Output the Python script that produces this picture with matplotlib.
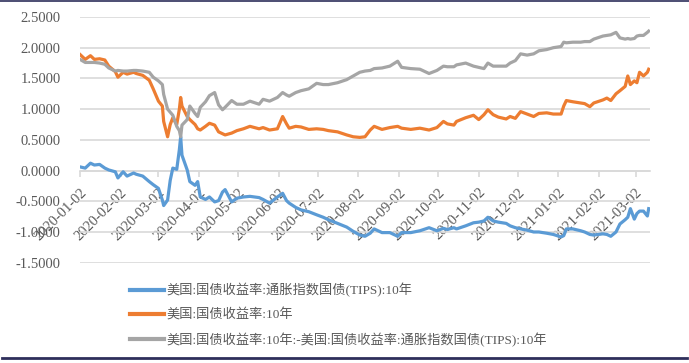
import matplotlib
matplotlib.use("Agg")
import matplotlib.pyplot as plt
import matplotlib.ticker as mticker
import pandas as pd

# sample dates (shared by all three series)
dates = [
    "2020-01-02", "2020-01-06", "2020-01-10", "2020-01-13", "2020-01-17", "2020-01-21",
    "2020-01-24", "2020-01-29", "2020-01-31", "2020-02-04", "2020-02-07", "2020-02-12",
    "2020-02-14", "2020-02-19", "2020-02-24", "2020-02-27", "2020-03-02", "2020-03-05",
    "2020-03-06", "2020-03-09", "2020-03-11", "2020-03-13", "2020-03-16", "2020-03-18",
    "2020-03-19", "2020-03-20", "2020-03-24", "2020-03-26", "2020-03-30", "2020-04-01",
    "2020-04-03", "2020-04-07", "2020-04-10", "2020-04-14", "2020-04-17", "2020-04-20",
    "2020-04-22", "2020-04-27", "2020-05-01", "2020-05-06", "2020-05-11", "2020-05-18",
    "2020-05-21", "2020-05-26", "2020-06-01", "2020-06-05", "2020-06-08", "2020-06-10",
    "2020-06-15", "2020-06-19", "2020-06-25", "2020-07-01", "2020-07-06", "2020-07-10",
    "2020-07-17", "2020-07-24", "2020-07-29", "2020-08-03", "2020-08-07", "2020-08-11",
    "2020-08-14", "2020-08-20", "2020-08-26", "2020-09-01", "2020-09-04", "2020-09-11",
    "2020-09-18", "2020-09-25", "2020-10-01", "2020-10-06", "2020-10-09", "2020-10-14",
    "2020-10-16", "2020-10-23", "2020-10-29", "2020-11-02", "2020-11-06", "2020-11-09",
    "2020-11-13", "2020-11-17", "2020-11-23", "2020-11-26", "2020-11-30", "2020-12-04",
    "2020-12-09", "2020-12-14", "2020-12-18", "2020-12-24", "2020-12-29", "2021-01-04",
    "2021-01-06", "2021-01-08", "2021-01-13", "2021-01-19", "2021-01-22", "2021-01-26",
    "2021-01-29", "2021-02-05", "2021-02-08", "2021-02-11", "2021-02-15", "2021-02-18",
    "2021-02-22", "2021-02-24", "2021-02-26", "2021-03-01", "2021-03-03", "2021-03-05",
    "2021-03-08", "2021-03-11", "2021-03-12",
]

tips_10y = [
    0.06, 0.04, 0.12, 0.09, 0.10, 0.04, 0.01, -0.02, -0.12, -0.02, -0.09, -0.04,
    -0.06, -0.09, -0.18, -0.23, -0.29, -0.48, -0.57, -0.48, -0.16, 0.04, 0.02, 0.34,
    0.55, 0.25, 0.01, -0.18, -0.24, -0.18, -0.43, -0.47, -0.43, -0.51, -0.49, -0.35,
    -0.31, -0.51, -0.45, -0.43, -0.42, -0.44, -0.47, -0.53, -0.43, -0.37, -0.49, -0.53,
    -0.60, -0.64, -0.67, -0.72, -0.76, -0.80, -0.86, -0.92, -0.99, -1.05, -1.07, -1.02,
    -0.95, -1.01, -1.01, -1.07, -1.01, -1.01, -0.98, -0.93, -0.98, -0.94, -0.96, -0.93,
    -0.95, -0.90, -0.85, -0.84, -0.82, -0.76, -0.82, -0.84, -0.86, -0.90, -0.93, -0.95,
    -0.97, -1.00, -1.00, -1.02, -1.04, -1.08, -1.06, -0.95, -0.95, -0.98, -1.00, -1.04,
    -1.05, -1.03, -1.04, -1.07, -1.00, -0.87, -0.80, -0.76, -0.62, -0.79, -0.70, -0.66,
    -0.66, -0.74, -0.62,
]

nominal_10y = [
    1.89, 1.81, 1.87, 1.81, 1.82, 1.80, 1.70, 1.61, 1.52, 1.60, 1.57, 1.60,
    1.58, 1.55, 1.47, 1.33, 1.13, 1.05, 0.80, 0.55, 0.75, 0.86, 0.75, 1.00,
    1.19, 1.05, 0.88, 0.83, 0.75, 0.68, 0.66, 0.72, 0.77, 0.74, 0.63, 0.60,
    0.58, 0.61, 0.65, 0.68, 0.72, 0.68, 0.70, 0.66, 0.68, 0.88, 0.76, 0.69,
    0.72, 0.71, 0.67, 0.68, 0.67, 0.65, 0.63, 0.58, 0.55, 0.54, 0.55, 0.66,
    0.72, 0.67, 0.70, 0.72, 0.69, 0.67, 0.69, 0.66, 0.70, 0.80, 0.76, 0.74,
    0.80, 0.86, 0.90, 0.83, 0.91, 0.99, 0.91, 0.87, 0.84, 0.88, 0.85, 0.96,
    0.92, 0.88, 0.93, 0.94, 0.92, 0.92, 1.05, 1.14, 1.12, 1.10, 1.09, 1.04,
    1.10, 1.15, 1.18, 1.14, 1.25, 1.30, 1.37, 1.54, 1.40, 1.46, 1.43, 1.60,
    1.54, 1.60, 1.65,
]

breakeven = [
    1.81, 1.76, 1.76, 1.76, 1.75, 1.73, 1.67, 1.62, 1.63, 1.62, 1.62, 1.63,
    1.63, 1.62, 1.60, 1.52, 1.46, 1.40, 1.24, 1.00, 0.95, 0.90, 0.72, 0.65,
    0.55, 0.74, 0.83, 1.05, 0.93, 0.88, 1.03, 1.12, 1.22, 1.27, 1.07, 0.99,
    1.03, 1.14, 1.08, 1.08, 1.13, 1.08, 1.16, 1.13, 1.19, 1.27, 1.23, 1.21,
    1.27, 1.30, 1.33, 1.42, 1.40, 1.40, 1.43, 1.48, 1.54, 1.60, 1.62, 1.63,
    1.66, 1.67, 1.70, 1.78, 1.68, 1.66, 1.65, 1.58, 1.63, 1.70, 1.69, 1.69,
    1.72, 1.75, 1.70, 1.68, 1.66, 1.75, 1.70, 1.70, 1.70, 1.75, 1.79, 1.90,
    1.88, 1.90, 1.95, 1.97, 2.00, 2.02, 2.09, 2.08, 2.09, 2.09, 2.10, 2.10,
    2.14, 2.19, 2.20, 2.21, 2.25, 2.16, 2.14, 2.15, 2.14, 2.15, 2.19, 2.20,
    2.20, 2.25, 2.27,
]

labels = [
    "美国:国债收益率:通胀指数国债(TIPS):10年",
    "美国:国债收益率:10年",
    "美国:国债收益率:10年:-美国:国债收益率:通胀指数国债(TIPS):10年",
]
colors = ["#5B9BD5", "#ED7D31", "#A5A5A5"]

yticks = [-1.5, -1.0, -0.5, 0.0, 0.5, 1.0, 1.5, 2.0, 2.5]
xtick_dates = pd.date_range("2020-01-01", "2021-03-01", freq="MS") + pd.Timedelta(days=1)

plt.rcParams["font.family"] = ["Liberation Serif", "Noto Sans CJK SC"]
text_color = "#595959"
grid_color = "#D9D9D9"

x = pd.to_datetime(dates)

fig = plt.figure(figsize=(6.89, 3.63), dpi=100)
ax = fig.add_axes([80 / 689, 1 - 262.7 / 363, 570 / 689, (262.7 - 17) / 363])

for series, lab, col in zip([tips_10y, nominal_10y, breakeven], labels, colors):
    ax.plot(x, series, color=col, lw=2.3, label=lab, solid_joinstyle="round")

ax.set_ylim(-1.5, 2.5)
ax.set_xlim(pd.Timestamp("2020-01-02"), pd.Timestamp("2021-03-13"))
ax.set_yticks(yticks)
ax.yaxis.set_major_formatter(mticker.FuncFormatter(lambda v, p: f"{v:.4f}"))
ax.grid(axis="y", color=grid_color, lw=1.2)
ax.set_axisbelow(True)

# category axis sits on the zero line, like the original
for s in ["left", "right", "top"]:
    ax.spines[s].set_visible(False)
ax.spines["bottom"].set_position(("data", 0))
ax.spines["bottom"].set_color(grid_color)
ax.spines["bottom"].set_linewidth(1.2)
ax.spines["bottom"].set_zorder(0.5)

ax.set_xticks(xtick_dates)
ax.set_xticklabels([d.strftime("%Y-%m-%d") for d in xtick_dates],
                   rotation=45, ha="right", va="top", rotation_mode="anchor")
ax.tick_params(axis="x", direction="out", length=4, width=1.2, color=grid_color,
               pad=7, labelsize=10.5, labelcolor=text_color)
ax.tick_params(axis="y", length=0, pad=14, labelsize=10.5, labelcolor=text_color)

leg = fig.legend(loc="upper left", bbox_to_anchor=(130 / 689, 1 - 283 / 363),
                 frameon=False, handlelength=2.6, handletextpad=0.15,
                 labelspacing=0.85, borderpad=0, borderaxespad=0,
                 prop={"size": 9.5})
for t in leg.get_texts():
    t.set_color(text_color)
for h in leg.legend_handles:
    h.set_linewidth(3)

# frame lines of the report page
fig.add_artist(plt.Line2D([0, 1], [1 - 0.8 / 363, 1 - 0.8 / 363], color="#2E2F5B", lw=1.2))
fig.add_artist(plt.Line2D([2 / 689, 687 / 689], [1 - 358 / 363, 1 - 358 / 363], color="#2E2F5B", lw=2))

fig.savefig("out.png", dpi=100)
